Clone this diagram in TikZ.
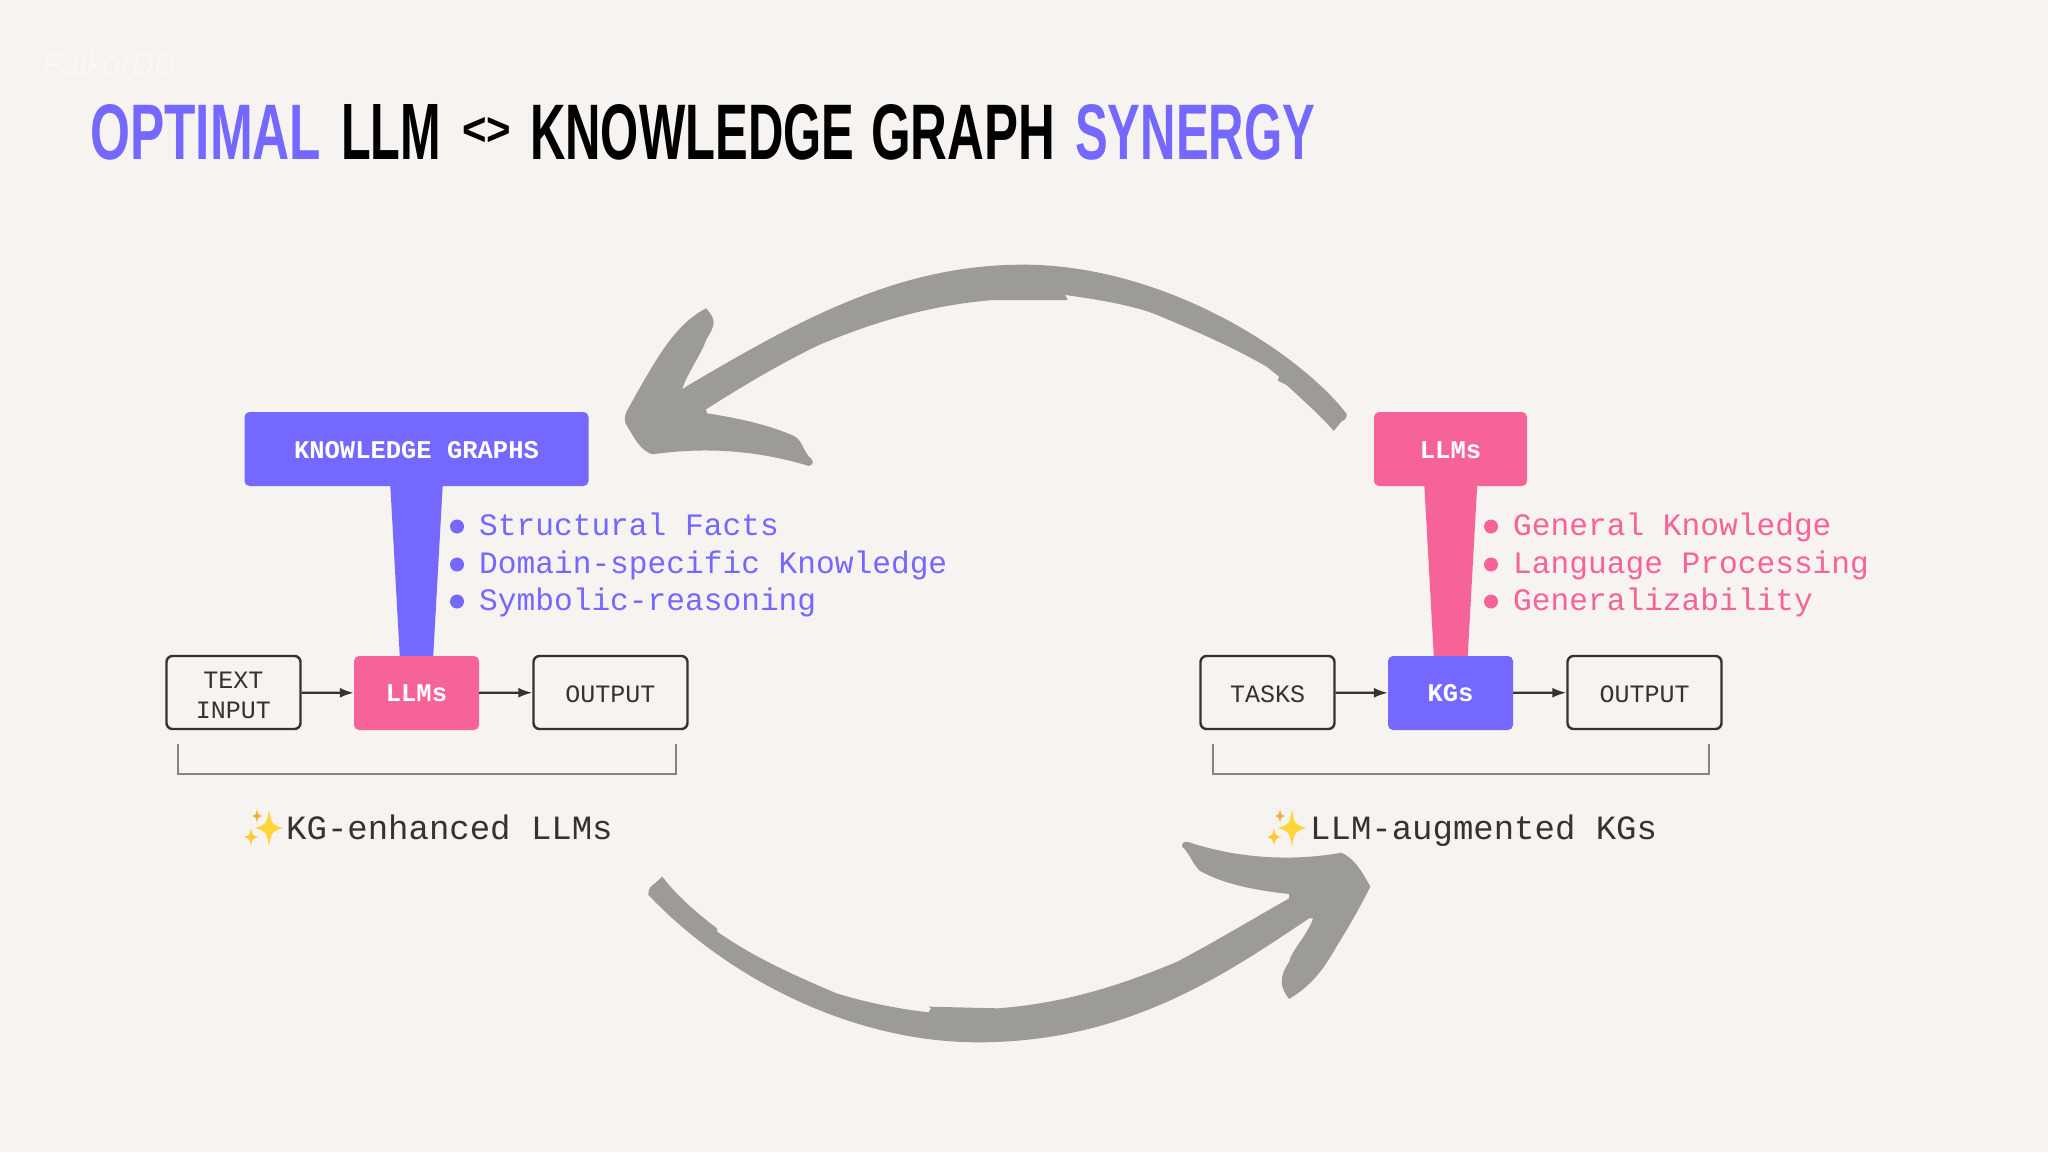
\documentclass[tikz,border=0pt]{standalone}
\usepackage{fontspec}
\usepackage{graphicx}
\setmainfont{Liberation Mono}
\newfontfamily\titlefont{Liberation Sans Bold}
\newfontfamily\wmfont{Liberation Sans}
\usetikzlibrary{arrows.meta}
\definecolor{bgc}{HTML}{F6F3F0}
\definecolor{purp}{HTML}{7468FF}
\definecolor{pinkc}{HTML}{F66398}
\definecolor{grayc}{HTML}{9C9B96}
\definecolor{inkc}{HTML}{333330}
\definecolor{brk}{HTML}{85857F}
\definecolor{sparkA}{HTML}{FFD53A}
\definecolor{sparkB}{HTML}{FBC93A}
\definecolor{sparkC}{HTML}{F2AE3C}
\newcommand{\titleword}[2]{\resizebox{#1pt}{55pt}{#2}}
\tikzset{
 x=1pt,y=-1pt,
 fillbox/.style={inner sep=0pt,rounded corners=5pt,minimum height=74pt},
 boldlabel/.style={anchor=base,inner sep=0pt,font=\fontsize{25.5}{30}\selectfont\bfseries,text=white},
 linebox/.style={inner sep=0pt,draw=inkc,line width=2.4pt,rounded corners=6pt,minimum height=73pt},
 linelabel/.style={inner sep=0pt,align=center,font=\fontsize{25}{30}\selectfont,text=inkc},
 flow/.style={draw=inkc,line width=2.2pt,-{Latex[length=14pt,width=10pt]}},
 brack/.style={draw=brk,line width=2.5pt},
 itemtext/.style={anchor=base west,inner sep=0pt,font=\fontsize{31.2}{36}\selectfont},
 captext/.style={anchor=base west,inner sep=0pt,font=\fontsize{34}{40}\selectfont,text=inkc},
 titletext/.style={anchor=base west,inner sep=0pt,font=\titlefont\fontsize{60}{60}\selectfont},
 swoosh/.style={fill=grayc,draw=none},
 dotm/.style={circle,inner sep=0pt,minimum size=14pt}
}
\newcommand{\sparkat}[5]{\fill[#5] (#1-#3,#2) .. controls (#1-#3*.2,#2-#4*.2) .. (#1,#2-#4) .. controls (#1+#3*.2,#2-#4*.2) .. (#1+#3,#2) .. controls (#1+#3*.2,#2+#4*.2) .. (#1,#2+#4) .. controls (#1-#3*.2,#2+#4*.2) .. cycle;}
\begin{document}
\begin{tikzpicture}
\useasboundingbox (0,0) rectangle (2048,1152);
\fill[bgc] (0,0) rectangle (2048,1152);

\node[anchor=base west,inner sep=0pt,font=\wmfont\itshape\fontsize{32}{32}\selectfont,text=white!45!bgc] (wm) at (42,75) {FalkorDB};

\node[titletext] (title) at (90,159) {\textcolor{purp}{\titleword{231}{OPTIMAL}}\hspace{20pt}\titleword{100}{LLM}\hspace{21pt}\raisebox{14pt}{\resizebox{49pt}{28pt}{<>}}\hspace{19pt}\titleword{324}{KNOWLEDGE}\hspace{17pt}\titleword{184}{GRAPH}\hspace{20pt}\textcolor{purp}{\titleword{240}{SYNERGY}}};

% swooshes
\begin{scope}[shift={(600,250)},x=0.4975pt,y=-0.3333pt]
\fill[swoosh] (1500,490) .. controls (1400,300) and (1130,44) .. (850,44)
 .. controls (600,44) and (400,210) .. (175,408) -- (165,418)
 .. controls (175,370) and (205,310) .. (213,270)
 .. controls (232,225) and (235,210) .. (213,175)
 .. controls (150,225) and (115,320) .. (55,480)
 .. controls (48,500) and (48,515) .. (55,530)
 .. controls (70,565) and (80,600) .. (105,613)
 .. controls (170,600) and (280,585) .. (420,648)
 .. controls (435,640) and (425,625) .. (420,620)
 .. controls (405,590) and (405,570) .. (390,558)
 .. controls (340,525) and (280,505) .. (215,490) -- (213,478)
 .. controls (290,405) and (370,335) .. (440,285)
 .. controls (560,210) and (670,165) .. (790,150) -- (940,150) -- (935,135)
 .. controls (1010,150) and (1080,170) .. (1120,195)
 .. controls (1200,245) and (1270,290) .. (1340,350) -- (1365,380) -- (1362,392) -- (1380,405)
 .. controls (1420,460) and (1450,500) .. (1475,543) -- (1490,515)
 .. controls (1500,510) and (1503,495) .. (1500,490) -- cycle;
\end{scope}
\begin{scope}[shift={(630,830)},x=0.4975pt,y=-0.3333pt]
\fill[swoosh] (65,140) .. controls (90,190) and (130,245) .. (175,295) -- (175,305) -- (190,320)
 .. controls (250,380) and (320,430) .. (415,490)
 .. controls (470,515) and (530,535) .. (600,547) -- (605,535) -- (600,530) -- (740,535)
 .. controls (870,520) and (980,470) .. (1100,395)
 .. controls (1170,340) and (1260,260) .. (1325,205) -- (1325,192)
 .. controls (1250,180) and (1190,160) .. (1145,122)
 .. controls (1130,100) and (1125,70) .. (1110,50)
 .. controls (1108,38) and (1115,33) .. (1122,36)
 .. controls (1220,85) and (1330,95) .. (1430,68)
 .. controls (1455,85) and (1470,120) .. (1488,170)
 .. controls (1470,225) and (1445,290) .. (1420,350)
 .. controls (1390,430) and (1365,470) .. (1325,507)
 .. controls (1305,470) and (1305,440) .. (1325,395)
 .. controls (1330,360) and (1360,320) .. (1373,265) -- (1365,265)
 .. controls (1200,430) and (1000,637) .. (700,637)
 .. controls (450,637) and (200,450) .. (37,195)
 .. controls (35,175) and (45,165) .. (50,160) -- cycle;
\end{scope}

% left
\fill[purp] (390,480) -- (443,480) -- (433,660) -- (400,660) -- cycle;
\node[fillbox,fill=purp,minimum width=344pt] (kg) at (416.5,449) {};
\node[boldlabel] (kgt) at (416.5,458) {KNOWLEDGE GRAPHS};
\node[fillbox,fill=pinkc,minimum width=125pt] (llmA) at (416.5,693) {};
\node[boldlabel] (llmAt) at (416.5,701) {LLMs};
\node[linebox,minimum width=134pt] (input) at (233.5,692.5) {};
\node[linelabel] (inputt) at (233.5,695) {TEXT\\INPUT};
\node[linebox,minimum width=154pt] (outA) at (610.5,692.5) {};
\node[linelabel,anchor=base] (outAt) at (610.5,702) {OUTPUT};
\draw[flow] (input) -- (llmA);
\draw[flow] (llmA) -- (outA);
\coordinate (b1a) at (178,744); \coordinate (b1b) at (178,774); \coordinate (b1c) at (676,774); \coordinate (b1d) at (676,744);
\draw[brack] (b1a) -- (b1b) -- (b1c) -- (b1d);
\foreach \n/\yy/\t in {a/535/Structural Facts,b/573/Domain-specific Knowledge,c/610/Symbolic-reasoning}{
 \node[itemtext,text=purp] (l\n) at (479,\yy) {\t};
 \node[dotm,fill=purp] (ld\n) at (457,\yy-8.5) {};
}
\sparkat{269}{828}{14}{18}{sparkA}
\sparkat{257}{816}{5}{7}{sparkC}
\sparkat{251}{837}{7}{9}{sparkB}
\node[captext] (capA) at (286,839) {KG-enhanced LLMs};

% right
\fill[pinkc] (1424,480) -- (1477.5,480) -- (1467.5,660) -- (1434,660) -- cycle;
\node[fillbox,fill=pinkc,minimum width=153pt] (llmB) at (1450.5,449) {};
\node[boldlabel] (llmBt) at (1450.5,458) {LLMs};
\node[fillbox,fill=purp,minimum width=125pt] (kgs) at (1450.5,693) {};
\node[boldlabel] (kgst) at (1450.5,701) {KGs};
\node[linebox,minimum width=134pt] (tasks) at (1267.5,692.5) {};
\node[linelabel,anchor=base] (taskst) at (1267.5,702) {TASKS};
\node[linebox,minimum width=154pt] (outB) at (1644.5,692.5) {};
\node[linelabel,anchor=base] (outBt) at (1644.5,702) {OUTPUT};
\draw[flow] (tasks) -- (kgs);
\draw[flow] (kgs) -- (outB);
\coordinate (b2a) at (1213,744); \coordinate (b2b) at (1213,774); \coordinate (b2c) at (1709,774); \coordinate (b2d) at (1709,744);
\draw[brack] (b2a) -- (b2b) -- (b2c) -- (b2d);
\foreach \n/\yy/\t in {a/535/General Knowledge,b/573/Language Processing,c/610/Generalizability}{
 \node[itemtext,text=pinkc] (r\n) at (1513,\yy) {\t};
 \node[dotm,fill=pinkc] (rd\n) at (1491,\yy-8.5) {};
}
\sparkat{1292}{828}{14}{18}{sparkA}
\sparkat{1280}{816}{5}{7}{sparkC}
\sparkat{1274}{837}{7}{9}{sparkB}
\node[captext] (capB) at (1310,839) {LLM-augmented KGs};
\end{tikzpicture}
\end{document}
